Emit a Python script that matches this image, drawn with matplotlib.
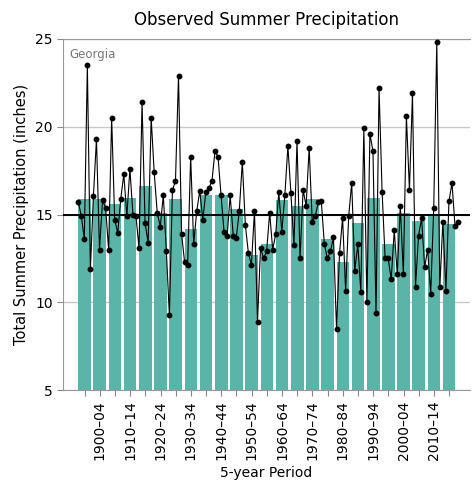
import matplotlib
matplotlib.use("Agg")
import matplotlib.pyplot as plt
import numpy as np

years = list(range(1895, 2021))
annual = [15.73,14.94,13.6,23.5,11.9,16.06,19.3,13.0,15.8,15.4,13.0,20.5,14.7,13.96,15.9,17.3,14.9,17.6,15.0,14.9,
          13.1,21.4,14.5,13.4,20.5,17.4,15.1,14.3,16.1,12.9,9.25,16.4,16.9,22.9,13.9,12.3,12.1,18.3,13.3,15.2,
          16.35,14.7,16.3,16.5,16.9,18.6,18.3,16.1,14.0,13.75,16.1,13.8,13.65,15.2,18.0,14.4,12.8,12.15,15.2,8.9,
          13.1,12.5,12.9,15.1,13.0,13.9,16.3,14.0,16.1,18.9,16.2,13.25,19.2,12.5,16.4,15.5,18.8,14.6,14.9,15.7,
          15.75,13.3,12.5,12.9,13.7,8.5,12.8,14.8,10.65,14.9,16.8,11.8,13.3,10.6,19.9,10.0,19.6,18.6,9.4,22.2,
          16.3,12.5,12.5,11.3,14.1,11.6,15.5,11.6,20.6,16.4,21.9,10.9,13.8,14.8,12.0,13.0,10.5,15.4,24.8,10.85,
          14.6,10.65,15.75,16.8,14.35,14.6]
period_starts = list(range(1895, 2020, 5))
period_means = [15.9,15.9,15.6,15.95,16.6,15.1,15.9,14.2,16.1,16.1,15.3,12.7,13.3,
                15.8,15.5,15.9,13.6,12.3,14.5,15.95,13.3,15.1,14.65,14.9,14.45]
long_term_mean = 15.0
period_labels = [f"{s}\u2013{str(s+4)[-2:]}" for s in period_starts]

fig = plt.figure(figsize=(4.74, 4.87), dpi=100)
ax = fig.add_axes([0.133, 0.199, 0.859, 0.721])
bw = 4.15
ax.bar(period_starts, period_means, width=bw, align='edge', color='#5ab5a8', zorder=2)
ax.plot(years, annual, color='black', lw=0.8, marker='o', ms=3.2, zorder=3)
ax.axhline(long_term_mean, color='black', lw=1.4, zorder=4)
ax.set_ylim(5, 25)
ax.set_xlim(1890, 2024)
ax.set_yticks([5, 10, 15, 20, 25])
ax.yaxis.grid(True, color='#c8c8c8', lw=1, zorder=0)
ax.set_axisbelow(True)
centers = [s + bw / 2 for s in period_starts]
ax.set_xticks(centers)
ax.set_xticklabels([l if i % 2 == 1 else "" for i, l in enumerate(period_labels)], rotation=90, fontsize=10)
ax.tick_params(axis='y', labelsize=10, length=4, color='#888888')
ax.tick_params(axis='x', length=4, color='#888888')
for sp in ax.spines.values():
    sp.set_color('#999999')
ax.spines['right'].set_visible(False)
ax.set_xlabel("5-year Period", fontsize=10)
ax.set_ylabel("Total Summer Precipitation (inches)", fontsize=10.5)
ax.set_title("Observed Summer Precipitation", fontsize=12, pad=10)
ax.text(0.015, 0.975, "Georgia", transform=ax.transAxes, ha='left', va='top', fontsize=8.5, color='#777777')
fig.savefig("out.png", dpi=100)
